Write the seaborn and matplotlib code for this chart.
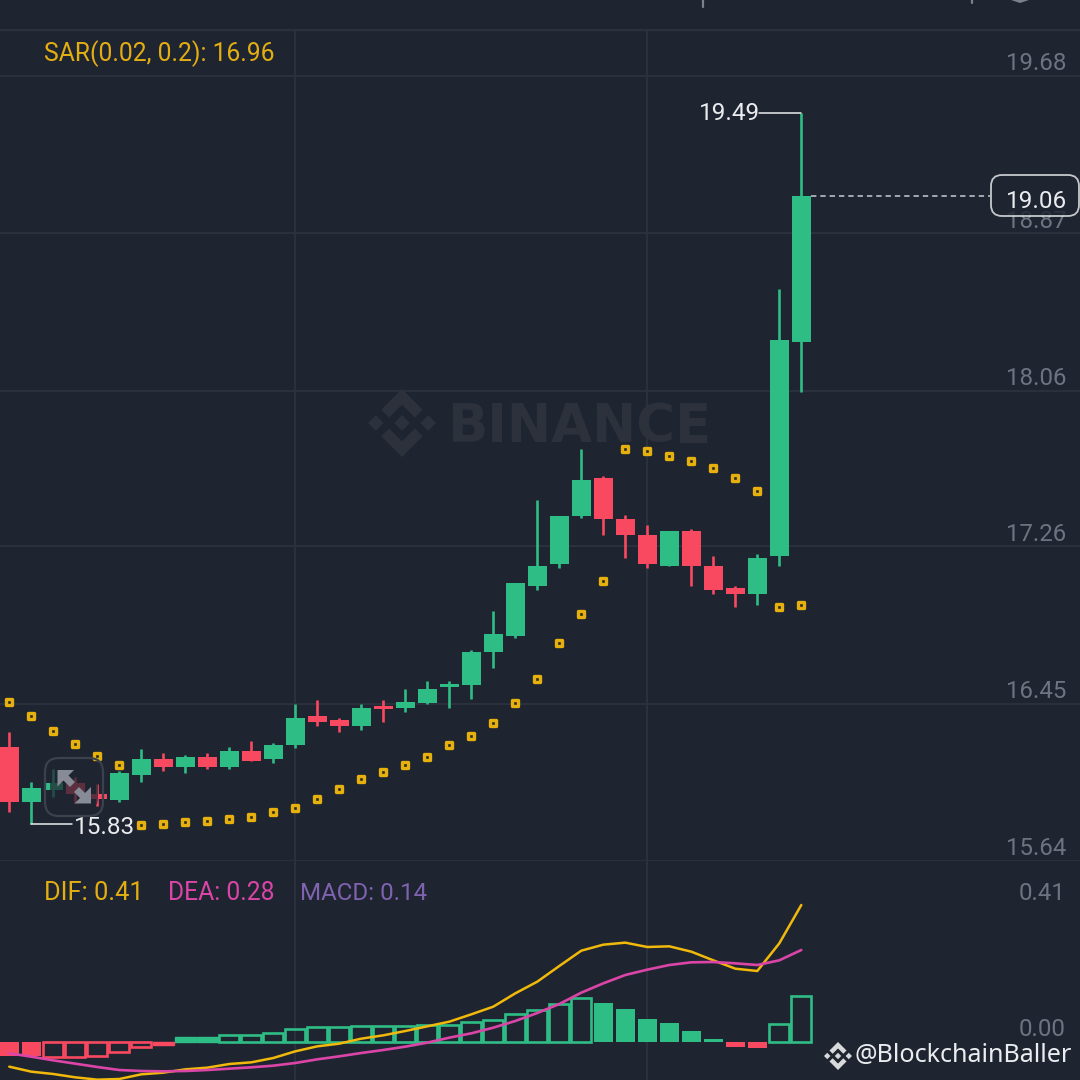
import matplotlib
matplotlib.use("Agg")
import matplotlib.pyplot as plt
import matplotlib.transforms as mtransforms
from matplotlib.patches import FancyBboxPatch, Polygon
import numpy as np
import pandas as pd
import seaborn as sns

# candles
opens = [16.225, 15.945, 16.005, 16.041, 15.985, 15.954, 16.084, 16.165, 16.124, 16.175,
         16.124, 16.206, 16.165, 16.235, 16.386, 16.366, 16.335, 16.438, 16.426, 16.455,
         16.535, 16.546, 16.716, 16.796, 17.057, 17.167, 17.417, 17.609, 17.398, 17.318,
         17.157, 17.338, 17.157, 17.046, 17.016, 17.208, 18.311]
closes = [15.945, 16.014, 16.040, 15.985, 15.959, 16.094, 16.165, 16.124, 16.175, 16.124,
          16.206, 16.155, 16.237, 16.376, 16.355, 16.335, 16.426, 16.421, 16.457, 16.525,
          16.551, 16.716, 16.807, 17.069, 17.158, 17.417, 17.599, 17.398, 17.318, 17.167,
          17.338, 17.157, 17.036, 17.016, 17.198, 18.321, 19.06]
highs = [16.305, 16.045, 16.113, 16.072, 16.036, 16.105, 16.216, 16.196, 16.185, 16.196,
         16.227, 16.258, 16.247, 16.448, 16.469, 16.376, 16.448, 16.469, 16.525, 16.566,
         16.566, 16.726, 16.927, 17.069, 17.498, 17.417, 17.76, 17.62, 17.421, 17.369,
         17.338, 17.348, 17.208, 17.057, 17.218, 18.584, 19.49]
lows = [15.894, 15.83, 15.969, 15.938, 15.923, 15.944, 16.047, 16.103, 16.093, 16.113,
        16.113, 16.155, 16.144, 16.223, 16.335, 16.304, 16.314, 16.355, 16.405, 16.448,
        16.426, 16.474, 16.635, 16.786, 17.036, 17.148, 17.407, 17.318, 17.198, 17.148,
        17.157, 17.057, 17.016, 16.947, 16.957, 17.158, 18.053]

sar = [16.457, 16.388, 16.311, 16.242, 16.182, 16.132, 15.825, 15.832, 15.839, 15.847,
       15.855, 15.868, 15.892, 15.914, 15.959, 16.011, 16.062, 16.098, 16.134, 16.175,
       16.237, 16.283, 16.352, 16.455, 16.578, 16.762, 16.91, 17.079, 17.759, 17.748,
       17.724, 17.70, 17.662, 17.611, 17.546, 16.947, 16.957]

dif = [-0.074, -0.089, -0.096, -0.106, -0.113, -0.111, -0.097, -0.092, -0.082, -0.077,
       -0.066, -0.061, -0.048, -0.028, -0.013, -0.005, 0.010, 0.020, 0.033, 0.047,
       0.061, 0.083, 0.106, 0.146, 0.181, 0.228, 0.274, 0.292, 0.298, 0.285,
       0.287, 0.271, 0.245, 0.220, 0.213, 0.296, 0.411]
dea = [-0.034, -0.044, -0.055, -0.065, -0.075, -0.084, -0.087, -0.088, -0.087, -0.084,
       -0.080, -0.076, -0.071, -0.063, -0.052, -0.043, -0.033, -0.024, -0.014, -0.002,
       0.013, 0.026, 0.043, 0.063, 0.087, 0.114, 0.148, 0.176, 0.201, 0.217,
       0.231, 0.239, 0.240, 0.236, 0.231, 0.245, 0.276]
macd = [-0.041, -0.041, -0.044, -0.044, -0.042, -0.029, -0.016, -0.010, 0.014, 0.014,
        0.020, 0.021, 0.027, 0.039, 0.044, 0.044, 0.049, 0.048, 0.048, 0.050,
        0.051, 0.059, 0.067, 0.084, 0.096, 0.114, 0.131, 0.117, 0.098, 0.070,
        0.057, 0.032, 0.009, -0.014, -0.017, 0.054, 0.139]

price_ticks = [19.68, 18.87, 18.06, 17.26, 16.45, 15.64]
price_tick_labels = ["19.68", "18.87", "18.06", "17.26", "16.45", "15.64"]
macd_tick_labels = ["0.41", "0.00"]
macd_ticks = [0.41, 0.0]

BG = "#1f2530"
GRID = "#2c323d"
GREEN = "#2EBD85"
RED = "#F84960"
YELLOW = "#F0B90B"
MAGENTA = "#DB45A8"
PURPLE = "#7F62B0"
TICK = "#6d7380"
WHITE = "#EAECEF"
FONT = "Roboto"

sns.set_theme(style="dark", rc={"figure.facecolor": BG, "axes.facecolor": "none",
                                "savefig.facecolor": BG})
plt.rcParams["font.family"] = [FONT, "DejaVu Sans"]

fig = plt.figure(figsize=(10.8, 10.8), dpi=100)
# picture pixels, y going down, used for the furniture around the marks
px = mtransforms.Affine2D().scale(1 / 1080, -1 / 1080).translate(0, 1) + fig.transFigure

ax = fig.add_axes([0, 1 - 861 / 1080, 1, (861 - 29) / 1080])
ax2 = fig.add_axes([0, 0, 1, (1080 - 861) / 1080])

idx = np.arange(len(opens))
x_left = -9.3 / 22
x_right = (1080 - 9.3) / 22
k = 4.04 / 785
ax.set_xlim(x_left, x_right)
ax.set_ylim(15.64, 15.64 + (861 - 29) * k)
ax2.set_xlim(x_left, x_right)
ax2.set_ylim((1042 - 1080) * 0.003, (1042 - 861) * 0.003)

for a in (ax, ax2):
    a.set_xticks([])
    a.set_yticks([])
    a.grid(False)
    for s in a.spines.values():
        s.set_visible(False)
    a.axvline(13, color=GRID, lw=1.4, zorder=1)
    a.axvline(29, color=GRID, lw=1.4, zorder=1)

for t in price_ticks:
    ax.axhline(t, color=GRID, lw=1.4, zorder=1)
ax.axhline(ax.get_ylim()[1], color=GRID, lw=2.5, zorder=1)


def draw_logo(a, cx, cy, r, color, z):
    shapes = [
        [(0, 1), (.61, .39), (.38, .16), (0, .54), (-.38, .16), (-.61, .39)],
        [(0, -1), (.61, -.39), (.38, -.16), (0, -.54), (-.38, -.16), (-.61, -.39)],
        [(0, .23), (.23, 0), (0, -.23), (-.23, 0)],
        [(.77, .23), (1, 0), (.77, -.23), (.54, 0)],
        [(-.77, .23), (-.54, 0), (-.77, -.23), (-1, 0)],
    ]
    for pts in shapes:
        a.add_patch(Polygon([(cx + p[0] * r, cy - p[1] * r) for p in pts], closed=True,
                            transform=px, facecolor=color, edgecolor="none",
                            zorder=z, clip_on=False))


# watermark
draw_logo(ax, 402, 423, 34, "#2c313c", 1.5)
ax.text(447, 442, "BINANCE", transform=px, fontsize=38, fontweight="bold", family="DejaVu Sans",
        color="#2c313c", ha="left", va="baseline", zorder=1.5)

# candles
for i in idx:
    col = GREEN if closes[i] >= opens[i] else RED
    ax.vlines(i, lows[i], highs[i], color=col, lw=1.9, zorder=3)
    ax.bar(i, abs(closes[i] - opens[i]), bottom=min(opens[i], closes[i]), width=0.88,
           color=col, linewidth=0, zorder=3)

sns.scatterplot(x=idx, y=sar, ax=ax, marker="s", s=15, color="#2a2a26", edgecolor="#E6B10F",
                linewidth=2.4, legend=False, zorder=4)

# expand icon sits over the candles
ax.add_patch(FancyBboxPatch((50, 763), 48, 47, boxstyle="round,pad=0,rounding_size=12",
                            mutation_aspect=1, transform=px, facecolor=BG, alpha=0.72,
                            edgecolor="none", zorder=5, clip_on=False))
ax.add_patch(FancyBboxPatch((45, 758), 58, 58, boxstyle="round,pad=0,rounding_size=14",
                            transform=px, facecolor="none", edgecolor="#3b414d", lw=1.6,
                            zorder=5, clip_on=False))
arrow_a = [(57.5, 770), (74, 770), (68.5, 775.5), (75, 782), (70, 787), (63.5, 780.5), (57.5, 786.5)]
arrow_b = [(91, 803.5), (74.5, 803.5), (80, 798), (74, 792), (79, 787), (85, 793), (91, 787)]
for pts in (arrow_a, arrow_b):
    ax.add_patch(Polygon(pts, closed=True, transform=px, facecolor="#868b96", edgecolor="none",
                         zorder=6, clip_on=False))

# high / low callouts
ax.plot([1, 2.85], [15.83, 15.83], color=WHITE, lw=1.1, zorder=6)
ax.text(74, 827, "15.83", transform=px, color=WHITE, fontsize=17.5, ha="left", va="center", zorder=7)
ax.plot([34.1, 36], [19.49, 19.49], color=WHITE, lw=1.1, zorder=6)
ax.text(760, 114, "19.49", transform=px, color=WHITE, fontsize=17.5, ha="right", va="center", zorder=7)

# last price marker
ax.plot([36.45, 44.6], [19.06, 19.06], color="#c8ccd2", lw=1.1, ls=(0, (3.5, 2.6)), zorder=3)

# axis labels sit above their grid lines
for t, lab in zip(price_ticks, price_tick_labels):
    ax.annotate(lab, xy=(1066 / 1080, t), xycoords=ax.get_yaxis_transform(), xytext=(0, 0.5),
                textcoords="offset points", color=TICK, fontsize=17.3, ha="right", va="bottom",
                zorder=2)
ax.add_patch(FancyBboxPatch((991, 175), 88, 41, boxstyle="round,pad=0,rounding_size=11",
                            transform=px, facecolor=BG, alpha=0.82, edgecolor=WHITE, lw=1.3,
                            zorder=5, clip_on=False))
ax.text(1036.5, 201, "19.06", transform=px, color=WHITE, fontsize=17.5, ha="center", va="center", zorder=6)

# MACD panel
hollow = list(range(2, 7)) + list(range(10, 27)) + [35, 36]
thin = [7, 8, 9]
for i in idx:
    col = GREEN if macd[i] >= 0 else RED
    if i in hollow:
        ax2.bar(i, macd[i], width=0.92, facecolor="none", edgecolor=col, linewidth=1.9, zorder=3)
    elif i in thin:
        ax2.bar(i, macd[i], width=0.93, color=col, edgecolor=col, linewidth=1.0, zorder=3)
    else:
        ax2.bar(i, macd[i], width=0.88, color=col, linewidth=0, zorder=3)

sns.lineplot(x=idx, y=dif, ax=ax2, color=YELLOW, lw=1.8, legend=False, zorder=4)
sns.lineplot(x=idx, y=dea, ax=ax2, color=MAGENTA, lw=1.9, legend=False, zorder=4)

for t, lab in zip(macd_ticks, macd_tick_labels):
    ax2.annotate(lab, xy=(1066 / 1080, t), xycoords=ax2.get_yaxis_transform(), xytext=(0, 0.5),
                 textcoords="offset points", color=TICK, fontsize=17.3, ha="right", va="bottom")

# legends
ax.text(44, 54, "SAR(0.02, 0.2): 16.96", transform=px, color="#E3AE12", fontsize=17.7, ha="left", va="center")
ax2.text(44, 893, "DIF: 0.41", transform=px, color="#E3AE12", fontsize=18.4, ha="left", va="center")
ax2.text(168, 893, "DEA: 0.28", transform=px, color=MAGENTA, fontsize=17.7, ha="left", va="center")
ax2.text(300, 893, "MACD: 0.14", transform=px, color=PURPLE, fontsize=17.4, ha="left", va="center")

# credit, bottom right
draw_logo(ax2, 838, 1056, 14, "#d8d9db", 7)
ax2.text(855, 1056, "@BlockchainBaller", transform=px, color=WHITE, fontsize=18.1, family="Noto Sans",
         ha="left", va="center", zorder=7)

# bits of the cropped header row along the top edge
for x0 in (703, 972):
    ax.plot([x0, x0], [0, 7 if x0 == 703 else 3], transform=px, color="#7c818b", lw=1.6, clip_on=False)
ax.add_patch(Polygon([(1011, 0), (1029, 0), (1020, 3)], closed=True, transform=px,
                     facecolor="#7c818b", edgecolor="none", clip_on=False))

fig.savefig("out.png", dpi=100)
plt.close(fig)
